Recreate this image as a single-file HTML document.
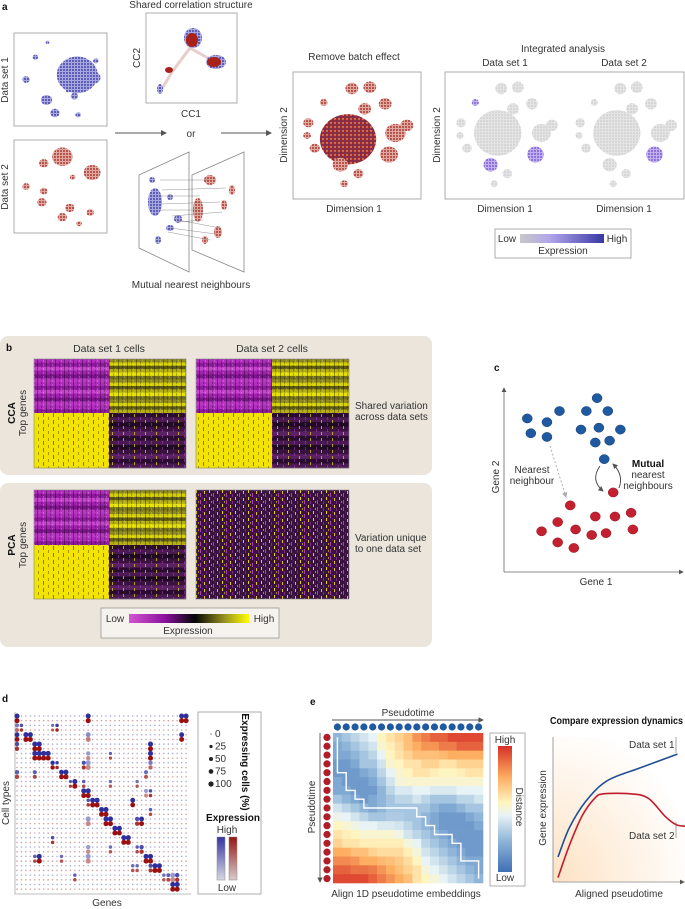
<!DOCTYPE html>
<html><head><meta charset="utf-8">
<style>
html,body{margin:0;padding:0;background:#fff;}
svg{display:block;font-family:"Liberation Sans",sans-serif;}
.t{font-size:10px;fill:#333;}
.b{font-weight:bold;fill:#111;}
</style></head><body>
<svg id="fig" width="685" height="909" viewBox="0 0 685 909" xmlns="http://www.w3.org/2000/svg">
<defs>
<pattern id="pBlue" width="3" height="3" patternUnits="userSpaceOnUse"><rect width="3" height="3" fill="#a8a8e0"/><circle cx="1" cy="1" r="0.9" fill="#2a2a9a"/></pattern>
<pattern id="pRed" width="3" height="3" patternUnits="userSpaceOnUse"><rect width="3" height="3" fill="#e0a8a0"/><circle cx="1" cy="1" r="0.9" fill="#9a1a10"/></pattern>
<pattern id="pMix" width="4" height="4" patternUnits="userSpaceOnUse"><rect width="4" height="4" fill="#a8281c"/><circle cx="1" cy="1" r="0.9" fill="#3a3aa8"/><circle cx="3" cy="3" r="0.7" fill="#d8d8ee"/></pattern>
<pattern id="pGrey" width="3" height="3" patternUnits="userSpaceOnUse"><rect width="3" height="3" fill="#e4e4e4"/><circle cx="1" cy="1" r="0.8" fill="#c6c6c6"/></pattern>
<pattern id="pPurple" width="3" height="3" patternUnits="userSpaceOnUse"><rect width="3" height="3" fill="#c0b0f0"/><circle cx="1" cy="1" r="0.9" fill="#6a4ac8"/></pattern>
<pattern id="spkDark" width="9" height="4" patternUnits="userSpaceOnUse"><rect x="1" y="0" width="1" height="4" fill="#000" opacity="0.35"/><rect x="5" y="1" width="1" height="3" fill="#000" opacity="0.25"/><rect x="7" y="0" width="1" height="2" fill="#fff" opacity="0.2"/></pattern>
<pattern id="spkYel" width="11" height="6" patternUnits="userSpaceOnUse"><rect x="2" y="0" width="1" height="3" fill="#e8e000" opacity="0.7"/><rect x="8" y="3" width="1" height="3" fill="#c040c0" opacity="0.5"/></pattern>
<pattern id="spkOnYel" width="10" height="7" patternUnits="userSpaceOnUse"><rect x="3" y="0" width="1" height="4" fill="#3a2a10" opacity="0.6"/><rect x="8" y="4" width="1" height="3" fill="#3a2a10" opacity="0.4"/></pattern>
<pattern id="noise" width="13" height="7" patternUnits="userSpaceOnUse"><rect width="13" height="7" fill="#3a1240"/><rect x="1" y="0" width="1" height="3" fill="#e6d800"/><rect x="5" y="3" width="1" height="4" fill="#b040b8"/><rect x="9" y="1" width="1" height="3" fill="#d8cc00"/><rect x="11" y="4" width="1" height="3" fill="#7a2a80"/><rect x="3" y="4" width="1" height="2" fill="#9a9010"/><rect x="7" y="0" width="1" height="2" fill="#6a1a70"/></pattern>
<linearGradient id="gExprA" x1="0" x2="1"><stop offset="0" stop-color="#c8c8c8"/><stop offset="0.35" stop-color="#b2a6ea"/><stop offset="1" stop-color="#3838a4"/></linearGradient>
<linearGradient id="gExprB" x1="0" x2="1"><stop offset="0" stop-color="#d454d0"/><stop offset="0.3" stop-color="#8a109e"/><stop offset="0.55" stop-color="#050505"/><stop offset="0.8" stop-color="#9a9420"/><stop offset="1" stop-color="#ffff00"/></linearGradient>
<linearGradient id="gBlueBar" x1="0" y1="0" x2="0" y2="1"><stop offset="0" stop-color="#3434a0"/><stop offset="1" stop-color="#d8d8e4"/></linearGradient>
<linearGradient id="gRedBar" x1="0" y1="0" x2="0" y2="1"><stop offset="0" stop-color="#951414"/><stop offset="1" stop-color="#d8cccc"/></linearGradient>
<linearGradient id="gDist" x1="0" y1="0" x2="0" y2="1"><stop offset="0" stop-color="#d73027"/><stop offset="0.25" stop-color="#fdae61"/><stop offset="0.45" stop-color="#fff5c0"/><stop offset="0.55" stop-color="#e8f3f5"/><stop offset="0.75" stop-color="#8fb6d9"/><stop offset="1" stop-color="#3f6fb5"/></linearGradient>
<radialGradient id="gPeach" cx="0" cy="1" r="1.1"><stop offset="0" stop-color="#fde2c4"/><stop offset="1" stop-color="#ffffff"/></radialGradient>
<marker id="arr" markerWidth="6" markerHeight="6" refX="5" refY="3" orient="auto"><path d="M0,0 L6,3 L0,6 z" fill="#555"/></marker>
<marker id="arrG" markerWidth="6" markerHeight="6" refX="5" refY="3" orient="auto"><path d="M0,0 L6,3 L0,6 z" fill="#aaa"/></marker>
</defs>

<!-- PANEL A -->
<g>
<text x="2" y="10" class="t b">a</text>
<rect x="14" y="33" width="93" height="93" fill="#fff" stroke="#999" stroke-width="0.8"/>
<rect x="14" y="140" width="93" height="93" fill="#fff" stroke="#999" stroke-width="0.8"/>
<text class="t" transform="translate(8,80) rotate(-90)" text-anchor="middle">Data set 1</text>
<text class="t" transform="translate(8,187) rotate(-90)" text-anchor="middle">Data set 2</text>
<g id="ds1"></g>
<g id="ds2"></g>
<text x="191" y="8" class="t" text-anchor="middle">Shared correlation structure</text>
<rect x="146" y="13" width="91" height="90" fill="#fff" stroke="#999" stroke-width="0.8"/>
<g>
<path d="M160,92 L172,72 L190,48 L215,62" stroke="#c07070" stroke-width="3" fill="none" opacity="0.35"/>
<ellipse cx="193" cy="38" rx="9" ry="10" fill="url(#pBlue)"/>
<ellipse cx="192" cy="40" rx="6" ry="7" fill="#a8221a"/>
<ellipse cx="216" cy="62" rx="10" ry="7" fill="url(#pBlue)"/>
<ellipse cx="214" cy="62" rx="7" ry="5" fill="#a8221a"/>
<ellipse cx="169" cy="70" rx="4" ry="3" fill="#a8221a"/>
<ellipse cx="160" cy="89" rx="3" ry="5" fill="url(#pBlue)"/>
</g>
<text class="t" transform="translate(140,58) rotate(-90)" text-anchor="middle">CC2</text>
<text x="191" y="117" class="t" text-anchor="middle">CC1</text>
<line x1="115" y1="133" x2="166" y2="133" stroke="#555" stroke-width="1" marker-end="url(#arr)"/>
<text x="191" y="137" class="t" text-anchor="middle">or</text>
<line x1="221" y1="133" x2="271" y2="133" stroke="#555" stroke-width="1" marker-end="url(#arr)"/>
<g>
<polygon points="139,175 189,152 189,272 139,248" fill="#fff" stroke="#888" stroke-width="0.8"/>
<ellipse cx="155" cy="202" rx="7" ry="14" fill="url(#pBlue)"/>
<ellipse cx="152" cy="180" rx="3" ry="3" fill="url(#pBlue)"/>
<ellipse cx="170" cy="197" rx="3" ry="3" fill="url(#pBlue)"/>
<ellipse cx="178" cy="219" rx="4" ry="4" fill="url(#pBlue)"/>
<ellipse cx="170" cy="228" rx="4" ry="3" fill="url(#pBlue)"/>
<ellipse cx="158" cy="240" rx="3" ry="4" fill="url(#pBlue)"/>
<polygon points="192,175 244,152 244,272 192,250" fill="#fff" fill-opacity="0.6" stroke="#888" stroke-width="0.8"/>
<ellipse cx="210" cy="180" rx="6" ry="5" fill="url(#pRed)"/>
<ellipse cx="232" cy="190" rx="3" ry="5" fill="url(#pRed)"/>
<ellipse cx="198" cy="210" rx="5" ry="12" fill="url(#pRed)"/>
<ellipse cx="224" cy="205" rx="3" ry="5" fill="url(#pRed)"/>
<ellipse cx="218" cy="232" rx="4" ry="6" fill="url(#pRed)"/>
<ellipse cx="205" cy="240" rx="3" ry="4" fill="url(#pRed)"/>
<g stroke="#777" stroke-width="0.4">
<line x1="160" y1="180" x2="210" y2="180"/><line x1="162" y1="190" x2="226" y2="188"/><line x1="160" y1="196" x2="200" y2="196"/><line x1="162" y1="204" x2="220" y2="202"/><line x1="160" y1="210" x2="200" y2="210"/><line x1="172" y1="216" x2="222" y2="212"/><line x1="178" y1="220" x2="220" y2="228"/><line x1="170" y1="228" x2="216" y2="234"/><line x1="168" y1="232" x2="210" y2="240"/><line x1="178" y1="222" x2="203" y2="220"/>
</g>
</g>
<text x="191" y="288" class="t" text-anchor="middle">Mutual nearest neighbours</text>
<text x="354" y="60" class="t" text-anchor="middle">Remove batch effect</text>
<rect x="293" y="72" width="128" height="127" fill="#fff" stroke="#999" stroke-width="0.8"/>
<g id="merged"></g>
<text class="t" transform="translate(287,135) rotate(-90)" text-anchor="middle">Dimension 2</text>
<text x="354" y="212" class="t" text-anchor="middle">Dimension 1</text>
<text x="563" y="52" class="t" text-anchor="middle">Integrated analysis</text>
<text x="505" y="66" class="t" text-anchor="middle">Data set 1</text>
<text x="624" y="66" class="t" text-anchor="middle">Data set 2</text>
<rect x="445" y="72" width="239" height="127" fill="#fff" stroke="#999" stroke-width="0.8"/>
<g id="integ"></g>
<text class="t" transform="translate(440,135) rotate(-90)" text-anchor="middle">Dimension 2</text>
<text x="505" y="212" class="t" text-anchor="middle">Dimension 1</text>
<text x="624" y="212" class="t" text-anchor="middle">Dimension 1</text>
<g>
<rect x="495" y="229" width="136" height="29" fill="#fff" stroke="#999" stroke-width="0.8"/>
<rect x="520" y="234" width="84" height="9" fill="url(#gExprA)"/>
<text x="507" y="242" class="t" text-anchor="middle">Low</text>
<text x="617" y="242" class="t" text-anchor="middle">High</text>
<text x="563" y="254" class="t" text-anchor="middle">Expression</text>
</g>
</g>

<!-- PANEL B -->
<g>
<rect x="0" y="336" width="432" height="139" rx="8" fill="#ebe5db"/>
<rect x="0" y="483" width="432" height="164" rx="8" fill="#ebe5db"/>
<text x="6" y="351" class="t b">b</text>
<text x="109" y="352" class="t" text-anchor="middle" style="font-size:10.5px">Data set 1 cells</text>
<text x="272" y="352" class="t" text-anchor="middle" style="font-size:10.5px">Data set 2 cells</text>
<g id="heatB"></g>
<text class="t b" transform="translate(15,413) rotate(-90)" text-anchor="middle">CCA</text>
<text class="t" transform="translate(26,413) rotate(-90)" text-anchor="middle">Top genes</text>
<text class="t b" transform="translate(15,545) rotate(-90)" text-anchor="middle">PCA</text>
<text class="t" transform="translate(26,545) rotate(-90)" text-anchor="middle">Top genes</text>
<text x="355" y="409" class="t">Shared variation</text>
<text x="355" y="420" class="t">across data sets</text>
<text x="355" y="541" class="t">Variation unique</text>
<text x="355" y="552" class="t">to one data set</text>
<g>
<rect x="101" y="608" width="178" height="30" fill="#f6f3ee" stroke="#999" stroke-width="0.8"/>
<rect x="129" y="614" width="120" height="9" fill="url(#gExprB)"/>
<text x="115" y="622" class="t" text-anchor="middle">Low</text>
<text x="264" y="622" class="t" text-anchor="middle">High</text>
<text x="188" y="634" class="t" text-anchor="middle">Expression</text>
</g>
</g>

<!-- PANEL C -->
<g>
<text x="494" y="371" class="t b">c</text>
<line x1="504" y1="572" x2="504" y2="388" stroke="#666" stroke-width="0.8" marker-end="url(#arr)"/>
<line x1="504" y1="572" x2="683" y2="572" stroke="#666" stroke-width="0.8" marker-end="url(#arr)"/>
<text class="t" transform="translate(499,477) rotate(-90)" text-anchor="middle">Gene 2</text>
<text x="596" y="585" class="t" text-anchor="middle">Gene 1</text>
<line x1="550" y1="446" x2="566" y2="497" stroke="#aaa" stroke-width="0.9" stroke-dasharray="2,2" marker-end="url(#arrG)"/>
<path d="M600,466 Q590,480 603,491" stroke="#444" stroke-width="0.9" fill="none" marker-end="url(#arr)"/>
<path d="M619,488 Q624,475 613,464" stroke="#444" stroke-width="0.9" fill="none" marker-end="url(#arr)"/>
<g id="cdots"></g>
<text x="532" y="473" class="t" text-anchor="middle">Nearest</text>
<text x="532" y="484" class="t" text-anchor="middle">neighbour</text>
<text x="648" y="467" class="t b" text-anchor="middle">Mutual</text>
<text x="648" y="478" class="t" text-anchor="middle">nearest</text>
<text x="648" y="489" class="t" text-anchor="middle">neighbours</text>
</g>

<!-- PANEL D -->
<g>
<text x="2" y="702" class="t b">d</text>
<path d="M15,712 L15,894 L191,894" stroke="#aaa" stroke-width="0.8" fill="none"/>
<g id="dotplot"></g>
<text class="t" transform="translate(9,803) rotate(-90)" text-anchor="middle">Cell types</text>
<text x="107" y="906" class="t" text-anchor="middle">Genes</text>
<g>
<rect x="198" y="712" width="63" height="182" fill="#fff" stroke="#999" stroke-width="0.8"/>
<g id="sizeLegend"></g>
<text class="t b" transform="translate(242,762) rotate(90)" text-anchor="middle">Expressing cells (%)</text>
<text x="233" y="821" class="t b" text-anchor="middle">Expression</text>
<text x="227" y="833" class="t" text-anchor="middle">High</text>
<rect x="217" y="837" width="8" height="43" fill="url(#gBlueBar)" stroke="#888" stroke-width="0.5"/>
<rect x="229" y="837" width="8" height="43" fill="url(#gRedBar)" stroke="#888" stroke-width="0.5"/>
<text x="227" y="891" class="t" text-anchor="middle">Low</text>
</g>
</g>

<!-- PANEL E -->
<g>
<text x="310" y="705" class="t b">e</text>
<text x="408" y="716" class="t" text-anchor="middle">Pseudotime</text>
<line x1="332" y1="720" x2="483" y2="720" stroke="#555" stroke-width="0.9" marker-end="url(#arr)"/>
<text class="t" transform="translate(315,807) rotate(-90)" text-anchor="middle">Pseudotime</text>
<line x1="320" y1="733" x2="320" y2="882" stroke="#555" stroke-width="0.9" marker-end="url(#arr)"/>
<g id="distmap"></g>
<g>
<rect x="490" y="733" width="35" height="153" fill="#fff" stroke="#999" stroke-width="0.8"/>
<rect x="498" y="746" width="14" height="126" fill="url(#gDist)"/>
<text x="505" y="743" class="t" text-anchor="middle">High</text>
<text x="505" y="881" class="t" text-anchor="middle">Low</text>
<text class="t" transform="translate(516,807) rotate(90)" text-anchor="middle">Distance</text>
</g>
<text x="406" y="897" class="t" text-anchor="middle">Align 1D pseudotime embeddings</text>
<text x="550" y="724" class="t b" textLength="133" lengthAdjust="spacingAndGlyphs">Compare expression dynamics</text>
<rect x="553" y="737" width="132" height="145" fill="url(#gPeach)"/>
<line x1="553" y1="882" x2="553" y2="737" stroke="#888" stroke-width="0.8"/>
<line x1="553" y1="882" x2="684" y2="882" stroke="#888" stroke-width="0.8" marker-end="url(#arr)"/>
<text class="t" transform="translate(546,808) rotate(-90)" text-anchor="middle">Gene expression</text>
<text x="619" y="897" class="t" text-anchor="middle">Aligned pseudotime</text>
<g id="curves"></g>
<text x="629" y="748" class="t">Data set 1</text>
<line x1="676" y1="737" x2="676" y2="753" stroke="#666" stroke-width="0.6"/>
<text x="629" y="839" class="t">Data set 2</text>
<line x1="676" y1="822" x2="676" y2="838" stroke="#666" stroke-width="0.6"/>
</g>
</svg>

<script>
const NS = "http://www.w3.org/2000/svg";
function el(tag, attrs, parent) {
  const e = document.createElementNS(NS, tag);
  for (const k in attrs) e.setAttribute(k, attrs[k]);
  parent.appendChild(e);
  return e;
}

// ---------- Panel a: cluster layouts (embedding units 0-100) ----------
const ds1ClusterX = [68, 86, 23, 13, 35, 44, 65, 69, 36, 88, 58];
const ds1ClusterY = [45, 48, 26, 50, 72, 86, 68, 88, 10, 30, 62];
const ds1ClusterR = [22, 7, 3, 4, 6, 5, 4, 3, 2, 3, 2];
const ds2ClusterX = [52, 84, 32, 13, 32, 30, 60, 52, 82, 70, 63];
const ds2ClusterY = [18, 35, 25, 50, 55, 67, 73, 83, 78, 90, 40];
const ds2ClusterR = [11, 9, 5, 4, 4, 5, 5, 5, 4, 3, 3];
const mergedX = [43, 46, 60, 72, 56, 24, 12, 11, 17, 80, 89, 75, 37, 51, 40];
const mergedY = [53, 13, 12, 25, 29, 24, 40, 50, 60, 48, 42, 65, 73, 80, 88];
const mergedR = [22, 5, 5, 5, 5, 3, 4, 3, 4, 8, 5, 7, 6, 4, 3];
const integX = [43, 46, 60, 72, 56, 24, 12, 11, 17, 80, 89, 75, 37, 51, 40];
const integY = [48, 13, 12, 25, 29, 24, 40, 50, 60, 48, 42, 65, 73, 80, 88];
const integR = [20, 5, 5, 5, 5, 3, 4, 3, 4, 8, 5, 7, 6, 4, 3];
const integHighDs1 = [0, 0, 0, 0, 0, 1, 0, 0, 0, 0, 0, 1, 1, 0, 0];
const integHighDs2 = [0, 0, 0, 0, 0, 0, 0, 0, 0, 0, 0, 1, 0, 0, 0];

function drawClusters(g, xs, ys, rs, x0, y0, w, h, fillFn, nameBase) {
  for (let i = 0; i < xs.length; i++) {
    const c = el('ellipse', {cx: x0 + xs[i] / 100 * w, cy: y0 + ys[i] / 100 * h, rx: rs[i] / 100 * w, ry: rs[i] / 100 * h * 0.9, fill: fillFn(i)}, g);
    
    
  }
}
drawClusters(document.getElementById('ds1'), ds1ClusterX, ds1ClusterY, ds1ClusterR, 14, 33, 93, 93, () => 'url(#pBlue)', 'ds1-cluster');
drawClusters(document.getElementById('ds2'), ds2ClusterX, ds2ClusterY, ds2ClusterR, 14, 140, 93, 93, () => 'url(#pRed)', 'ds2-cluster');
drawClusters(document.getElementById('merged'), mergedX, mergedY, mergedR, 293, 72, 128, 127, i => i === 0 ? 'url(#pMix)' : 'url(#pRed)', 'merged-cluster');
drawClusters(document.getElementById('integ'), integX, integY, integR, 447, 72, 118, 127, i => integHighDs1[i] ? 'url(#pPurple)' : 'url(#pGrey)', 'integrated-ds1-cluster');
drawClusters(document.getElementById('integ'), integX, integY, integR, 566, 72, 118, 127, i => integHighDs2[i] ? 'url(#pPurple)' : 'url(#pGrey)', 'integrated-ds2-cluster');

// ---------- Panel b: heatmaps ----------
const magentaShades = ['#b02cbc', '#8c1a9a', '#c444cc', '#9e22ac', '#7a1488', '#b838c2'];
const oliveShades = ['#8e8a1e', '#d6d000', '#5e5a12', '#b4ae10', '#e8e200', '#74701a'];
const darkShades = ['#2a0c30', '#4a1a52', '#1e0a22', '#3a1240', '#5a2262'];
const heatB = document.getElementById('heatB');
function bands(x, y, w, h, n, shades, pat, name) {
  const g = el('g', {}, heatB);
  
  
  const bh = h / n;
  for (let i = 0; i < n; i++) el('rect', {x: x, y: y + i * bh, width: w, height: bh + 0.3, fill: shades[i % shades.length]}, g);
  if (pat) el('rect', {x: x, y: y, width: w, height: h, fill: 'url(#' + pat + ')'}, g);
}
function heatmap(x, y, w, h, split, ySplit, noise, name) {
  const lw = split - x, rw = x + w - split, th = ySplit - y, bh = y + h - ySplit;
  if (noise) {
    const r = el('rect', {x: x, y: y, width: w, height: h, fill: 'url(#noise)'}, heatB);
    
    
  } else {
    bands(x, y, lw, th, 14, magentaShades, 'spkDark', name + '-top-left');
    bands(split, y, rw, th, 16, oliveShades, 'spkDark', name + '-top-right');
    bands(x, ySplit, lw, bh, 1, ['#f2e400'], 'spkOnYel', name + '-bottom-left');
    bands(split, ySplit, rw, bh, 12, darkShades, 'spkYel', name + '-bottom-right');
  }
  el('rect', {x: x, y: y, width: w, height: h, fill: 'none', stroke: '#888', 'stroke-width': 0.6}, heatB);
}
heatmap(34, 359, 152, 109, 109, 413, false, 'cca-ds1-heatmap');
heatmap(196, 359, 153, 109, 272, 413, false, 'cca-ds2-heatmap');
heatmap(34, 490, 152, 109, 109, 545, false, 'pca-ds1-heatmap');
heatmap(196, 490, 153, 109, 272, 545, true, 'pca-ds2-heatmap');

// ---------- Panel c: gene scatter ----------
const blueGene1 = [13, 24, 31, 15, 24, 52, 46, 58, 43, 53, 65, 51, 59, 56];
const blueGene2 = [83, 81, 87, 75, 73, 94, 87, 87, 77, 78, 77, 70, 71, 61];
const redGene1 = [61, 37, 30, 40, 51, 62, 71, 72, 21, 49, 57, 30, 39];
const redGene2 = [43, 36, 27, 23, 30, 30, 32, 23, 22, 20, 21, 16, 13];
const cx = g1 => 504 + g1 * 1.79;
const cy = g2 => 572 - g2 * 1.85;
const cdots = document.getElementById('cdots');
blueGene1.forEach((v, i) => {
  const c = el('ellipse', {cx: cx(v), cy: cy(blueGene2[i]), rx: 5, ry: 4.6, fill: '#1f5aa0', stroke: '#173f75', 'stroke-width': 0.5}, cdots);
  
  
});
redGene1.forEach((v, i) => {
  const c = el('ellipse', {cx: cx(v), cy: cy(redGene2[i]), rx: 5, ry: 4.6, fill: '#c42030', stroke: '#8a1520', 'stroke-width': 0.5}, cdots);
  
  
});

// ---------- Panel d: dot plot ----------
const nCellTypes = 19;
const nGenes = 39;
const basePct = 3;
const markerType = [0,0,0,0, 1,1,1,1, 2,2,2,2,2, 3,3,3,3, 4,4,4,4,4,4,4, 5,5,5,5,5, 6,6,6,6,6, 7,7,7,7,7, 8,8,8,8, 9,9,9,9, 10,10,10, 11,11,11,11,11, 12,12, 13,13,13, 14,14,14,14, 15,15,15,15,15,15, 16,16,16,16,16, 17,17,17,17,17, 18,18];
const markerGene = [0,16,37,38, 0,1,8,9, 0,2,3,16,37, 0,4,5,30, 4,5,6,7,16,30,21, 8,9,15,16,30, 0,4,10,11,29, 13,12,15,21,27, 15,16,29,30, 16,17,18,26, 19,20,30, 16,20,21,27,28, 22,23, 8,24,25, 16,27,28,21, 5,16,10,29,30,4, 26,30,31,32,27, 13,33,34,35,36, 35,36];
const markerPct = [100,100,100,100, 60,40,30,40, 90,100,100,90,90, 70,100,100,100, 100,100,100,100,70,100,30, 70,40,60,100,70, 70,60,90,100,60, 100,30,40,35,35, 100,100,60,40, 40,100,100,90, 100,100,40, 100,100,100,70,90, 100,100, 40,100,100, 70,40,70,40, 100,100,40,100,100,40, 40,60,100,100,40, 40,40,50,100,70, 100,100];
const markerLevel = [1,1,1,1, 0.5,0.8,0.6,0.9, 1,1,1,0.4,1, 0.8,1,1,1, 1,1,1,1,0.3,1,0.7, 1,0.9,0.8,0.3,0.5, 0.7,0.7,1,1,0.6, 1,0.8,0.7,0.6,0.6, 1,1,0.3,0.8, 0.8,1,1,1, 1,1,0.7, 0.3,1,1,0.8,1, 1,1, 0.8,1,1, 0.3,0.7,0.8,0.6, 1,0.3,0.6,1,1,0.7, 0.6,0.8,1,1,0.6, 0.7,0.6,0.7,0.3,0.8, 1,1];
const dotX = gene => 17 + gene * 4.45;
const dotY = row => 716 + row * 4.68;
const dotR = pct => 0.4 + 2.15 * Math.sqrt(pct / 100);
function mix(a, b, t) {
  const pa = a.match(/\w\w/g).map(h => parseInt(h, 16)), pb = b.match(/\w\w/g).map(h => parseInt(h, 16));
  return 'rgb(' + pa.map((v, i) => Math.round(v + (pb[i] - v) * t)).join(',') + ')';
}
const dp = document.getElementById('dotplot');
const pctGrid = [], lvlGrid = [];
for (let t = 0; t < nCellTypes; t++) { pctGrid.push(new Array(nGenes).fill(basePct)); lvlGrid.push(new Array(nGenes).fill(0.2)); }
markerType.forEach((t, i) => { pctGrid[t][markerGene[i]] = markerPct[i]; lvlGrid[t][markerGene[i]] = markerLevel[i]; });
for (let t = 0; t < nCellTypes; t++) {
  for (let gI = 0; gI < nGenes; gI++) {
    const p = pctGrid[t][gI], l = lvlGrid[t][gI];
    const b = el('circle', {cx: dotX(gI), cy: dotY(2 * t), r: dotR(p), fill: mix('c8c8e4', '2e2e9c', l)}, dp);
    
    
    const r = el('circle', {cx: dotX(gI), cy: dotY(2 * t + 1), r: dotR(p), fill: mix('dcc0c0', '9a1010', l)}, dp);
    
    
  }
}
const sizeLegendPct = [0, 25, 50, 75, 100];
const sl = document.getElementById('sizeLegend');
sizeLegendPct.forEach((p, i) => {
  const y = 737 + i * 12.5;
  const c = el('circle', {cx: 211, cy: y - 3, r: dotR(p) * 0.95 + 0.2, fill: '#222'}, sl);
  
  
  const tx = el('text', {x: 215, y: y, class: 't'}, sl);
  tx.textContent = String(p);
  
  
});

// ---------- Panel e: distance heatmap ----------
const distMatrix = [
 [.25,.3,.35,.4,.45,.55,.6,.65,.7,.8,.85,.9,.9,.95,.95,.95,.95],
 [.2,.25,.3,.35,.4,.52,.57,.62,.7,.75,.8,.8,.85,.85,.9,.9,.9],
 [.2,.2,.25,.3,.35,.45,.55,.6,.65,.7,.7,.7,.72,.75,.75,.75,.75],
 [.15,.15,.2,.3,.3,.4,.52,.55,.6,.6,.65,.65,.6,.6,.65,.65,.65],
 [.15,.15,.15,.2,.25,.35,.45,.52,.55,.6,.6,.57,.55,.55,.57,.6,.6],
 [.2,.15,.15,.15,.2,.3,.4,.5,.52,.52,.52,.52,.52,.52,.52,.52,.52],
 [.2,.2,.15,.15,.15,.25,.35,.42,.42,.45,.45,.42,.42,.42,.45,.45,.45],
 [.3,.25,.2,.15,.2,.25,.3,.35,.35,.4,.35,.3,.3,.3,.35,.35,.4],
 [.4,.35,.3,.25,.2,.25,.3,.3,.3,.3,.3,.25,.2,.2,.25,.3,.3],
 [.47,.45,.4,.35,.3,.3,.32,.32,.3,.3,.25,.2,.15,.15,.15,.2,.25],
 [.55,.52,.48,.45,.45,.42,.42,.4,.35,.3,.25,.2,.15,.15,.15,.15,.2],
 [.6,.57,.55,.52,.52,.52,.52,.48,.4,.35,.3,.25,.2,.15,.15,.15,.15],
 [.65,.6,.6,.57,.57,.57,.57,.57,.5,.45,.35,.3,.25,.2,.15,.15,.15],
 [.75,.75,.7,.7,.65,.62,.62,.62,.57,.5,.4,.35,.3,.25,.2,.15,.15],
 [.82,.82,.8,.75,.75,.72,.7,.67,.62,.55,.45,.4,.35,.3,.25,.2,.2],
 [.9,.9,.87,.87,.85,.8,.75,.7,.65,.6,.5,.45,.4,.35,.3,.25,.2],
 [.95,.95,.95,.95,.9,.85,.8,.75,.7,.6,.55,.5,.45,.4,.35,.3,.25]
];
const pathCols = [0, 0, 1, 1, 2, 2, 3, 3, 9, 9, 10, 10, 11, 11, 13, 13, 14, 14, 16, 16];
const pathRows = [0, 4, 4, 6, 6, 7, 7, 8, 8, 9, 9, 10, 10, 11, 11, 12, 12, 14, 14, 16];
const distStops = [[0, '3f6fb5'], [0.25, '8fb6d9'], [0.45, 'e8f3f5'], [0.55, 'fff5c0'], [0.75, 'fdae61'], [1, 'd73027']];
function distColor(v) {
  for (let i = 1; i < distStops.length; i++) {
    if (v <= distStops[i][0]) {
      const a = distStops[i - 1], b = distStops[i];
      return mix(a[1], b[1], (v - a[0]) / (b[0] - a[0]));
    }
  }
  return '#' + distStops[distStops.length - 1][1];
}
const hmX0 = 333, hmY0 = 733, hmW = 150, hmH = 150;
const nCols = distMatrix[0].length, nRows = distMatrix.length;
const cw = hmW / nCols, ch = hmH / nRows;
const colX = c => hmX0 + c * cw;
const rowY = r => hmY0 + r * ch;
const dm = document.getElementById('distmap');
distMatrix.forEach((row, r) => row.forEach((v, c) => {
  const rc = el('rect', {x: colX(c), y: rowY(r), width: cw + 0.3, height: ch + 0.3, fill: distColor(v)}, dm);
  
  
}));
let pd = '';
pathCols.forEach((c, i) => { pd += (i ? 'L' : 'M') + (colX(c) + cw / 2).toFixed(1) + ',' + (rowY(pathRows[i]) + ch / 2).toFixed(1); });
const wp = el('path', {d: pd, stroke: '#fff', 'stroke-width': 1.4, fill: 'none'}, dm);


for (let c = 0; c < nCols; c++) {
  const d = el('circle', {cx: colX(c) + cw / 2, cy: 727, r: 3.6, fill: '#1f5aa0'}, dm);
  
  
}
for (let r = 0; r < nRows; r++) {
  const d = el('circle', {cx: 327, cy: rowY(r) + ch / 2, r: 3.6, fill: '#b01e2a'}, dm);
  
  
}

// ---------- Panel e: expression dynamics ----------
const ds1Time = [0, 0.09, 0.22, 0.39, 0.66, 0.94];
const ds1Expr = [0.17, 0.37, 0.55, 0.69, 0.78, 0.87];
const ds2Time = [0, 0.09, 0.19, 0.29, 0.36, 0.57, 0.71, 0.84, 0.93, 1.0];
const ds2Expr = [0.03, 0.25, 0.45, 0.57, 0.60, 0.60, 0.57, 0.45, 0.39, 0.38];
const lx = t => 558 + t * 127;
const ly = e => 882 - e * 147;
function smooth(ts, es) {
  const p = ts.map((t, i) => [lx(t), ly(es[i])]);
  let d = 'M' + p[0][0] + ',' + p[0][1];
  for (let i = 0; i < p.length - 1; i++) {
    const p0 = p[i - 1] || p[i], p1 = p[i], p2 = p[i + 1], p3 = p[i + 2] || p2;
    const c1 = [p1[0] + (p2[0] - p0[0]) / 6, p1[1] + (p2[1] - p0[1]) / 6];
    const c2 = [p2[0] - (p3[0] - p1[0]) / 6, p2[1] - (p3[1] - p1[1]) / 6];
    d += 'C' + c1.map(v => v.toFixed(1)) + ' ' + c2.map(v => v.toFixed(1)) + ' ' + p2[0].toFixed(1) + ',' + p2[1].toFixed(1);
  }
  return d;
}
const cg = document.getElementById('curves');
const l1 = el('path', {d: smooth(ds1Time, ds1Expr), stroke: '#1f4f96', 'stroke-width': 1.6, fill: 'none'}, cg);


const l2 = el('path', {d: smooth(ds2Time, ds2Expr), stroke: '#c01c2c', 'stroke-width': 1.6, fill: 'none'}, cg);


</script>
</body></html>
